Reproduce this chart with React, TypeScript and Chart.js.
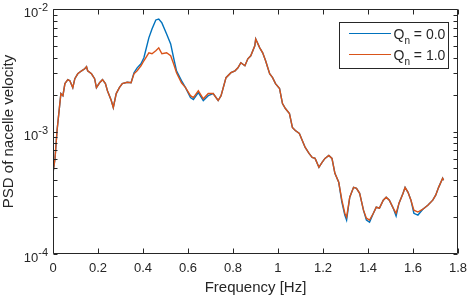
import React, { useEffect, useRef } from 'react';
import { Chart, registerables } from 'chart.js';

Chart.register(...registerables);

const frequency = [
  0.000, 0.009, 0.018, 0.035, 0.044, 0.053, 0.066, 0.075, 0.088, 0.097,
  0.110, 0.127, 0.141, 0.149, 0.154, 0.171, 0.185, 0.193, 0.207, 0.220,
  0.233, 0.242, 0.259, 0.268, 0.281, 0.295, 0.308, 0.330, 0.347, 0.360,
  0.374, 0.391, 0.404, 0.426, 0.440, 0.457, 0.470, 0.484, 0.505, 0.523,
  0.536, 0.549, 0.571, 0.589, 0.611, 0.624, 0.646, 0.668, 0.690, 0.712,
  0.734, 0.747, 0.769, 0.791, 0.809, 0.822, 0.835, 0.853, 0.866, 0.879,
  0.897, 0.901, 0.919, 0.932, 0.945, 0.963, 0.976, 0.989, 1.007, 1.020,
  1.033, 1.051, 1.064, 1.077, 1.095, 1.108, 1.121, 1.138, 1.152, 1.165,
  1.182, 1.196, 1.209, 1.226, 1.240, 1.253, 1.270, 1.284, 1.297, 1.305,
  1.319, 1.336, 1.349, 1.363, 1.380, 1.393, 1.407, 1.424, 1.437, 1.451,
  1.468, 1.481, 1.495, 1.512, 1.525, 1.538, 1.556, 1.565, 1.578, 1.591,
  1.604, 1.622, 1.644, 1.666, 1.688, 1.701, 1.714, 1.732, 1.736,
];

const psdQn0 = [
  4.56e-4, 6.03e-4, 1.02e-3, 2.04e-3, 1.96e-3, 2.46e-3, 2.65e-3, 2.60e-3, 2.28e-3, 2.70e-3,
  2.96e-3, 3.13e-3, 3.25e-3, 3.38e-3, 3.13e-3, 2.96e-3, 2.70e-3, 2.28e-3, 2.50e-3, 2.65e-3,
  2.46e-3, 2.15e-3, 1.79e-3, 1.57e-3, 2.04e-3, 2.28e-3, 2.46e-3, 2.52e-3, 2.50e-3, 3.02e-3,
  3.31e-3, 3.57e-3, 4.00e-3, 5.81e-3, 6.88e-3, 8.14e-3, 8.29e-3, 7.70e-3, 6.26e-3, 5.19e-3,
  4.00e-3, 3.13e-3, 2.60e-3, 2.28e-3, 1.89e-3, 1.82e-3, 2.08e-3, 1.79e-3, 1.96e-3, 2.04e-3,
  1.79e-3, 1.96e-3, 2.75e-3, 3.02e-3, 3.13e-3, 3.31e-3, 3.64e-3, 3.44e-3, 3.92e-3, 4.15e-3,
  5.00e-3, 5.70e-3, 4.82e-3, 4.39e-3, 3.78e-3, 2.96e-3, 2.75e-3, 2.46e-3, 2.24e-3, 1.69e-3,
  1.54e-3, 1.40e-3, 1.08e-3, 1.02e-3, 9.63e-4, 8.45e-4, 7.41e-4, 6.62e-4, 6.15e-4, 6.03e-4,
  5.10e-4, 5.60e-4, 6.03e-4, 6.38e-4, 6.03e-4, 4.56e-4, 3.85e-4, 2.65e-4, 2.08e-4, 1.89e-4,
  2.91e-4, 3.50e-4, 3.44e-4, 3.13e-4, 2.28e-4, 1.89e-4, 1.82e-4, 2.15e-4, 2.41e-4, 2.37e-4,
  2.75e-4, 2.91e-4, 2.75e-4, 2.37e-4, 2.04e-4, 2.60e-4, 3.13e-4, 3.50e-4, 3.19e-4, 2.75e-4,
  2.15e-4, 2.08e-4, 2.32e-4, 2.50e-4, 2.75e-4, 3.02e-4, 3.50e-4, 4.15e-4, 4.00e-4,
];

const psdQn1 = [
  4.56e-4, 6.03e-4, 1.02e-3, 2.04e-3, 1.96e-3, 2.46e-3, 2.65e-3, 2.60e-3, 2.28e-3, 2.70e-3,
  2.96e-3, 3.13e-3, 3.25e-3, 3.38e-3, 3.13e-3, 2.96e-3, 2.70e-3, 2.28e-3, 2.50e-3, 2.65e-3,
  2.46e-3, 2.15e-3, 1.79e-3, 1.57e-3, 2.04e-3, 2.28e-3, 2.46e-3, 2.52e-3, 2.50e-3, 2.96e-3,
  3.13e-3, 3.44e-3, 3.78e-3, 4.39e-3, 4.31e-3, 4.56e-3, 4.82e-3, 4.31e-3, 4.39e-3, 4.15e-3,
  3.57e-3, 3.02e-3, 2.50e-3, 2.28e-3, 1.96e-3, 1.89e-3, 2.15e-3, 1.85e-3, 2.04e-3, 2.04e-3,
  1.79e-3, 1.96e-3, 2.75e-3, 3.02e-3, 3.13e-3, 3.31e-3, 3.64e-3, 3.44e-3, 3.92e-3, 4.15e-3,
  5.00e-3, 5.70e-3, 4.82e-3, 4.39e-3, 3.78e-3, 2.96e-3, 2.75e-3, 2.46e-3, 2.24e-3, 1.69e-3,
  1.54e-3, 1.40e-3, 1.08e-3, 1.02e-3, 9.63e-4, 8.45e-4, 7.41e-4, 6.62e-4, 6.15e-4, 6.03e-4,
  5.10e-4, 5.60e-4, 6.03e-4, 6.38e-4, 6.03e-4, 4.56e-4, 3.85e-4, 2.75e-4, 2.15e-4, 2.00e-4,
  2.91e-4, 3.50e-4, 3.44e-4, 3.13e-4, 2.28e-4, 1.96e-4, 1.89e-4, 2.15e-4, 2.41e-4, 2.37e-4,
  2.75e-4, 2.91e-4, 2.75e-4, 2.37e-4, 2.15e-4, 2.60e-4, 3.13e-4, 3.50e-4, 3.19e-4, 2.75e-4,
  2.28e-4, 2.20e-4, 2.32e-4, 2.50e-4, 2.75e-4, 3.02e-4, 3.50e-4, 4.15e-4, 4.00e-4,
];

const seriesLabels = ['Q_n = 0.0', 'Q_n = 1.0'];
const seriesColors = ['#0072BD', '#D95319'];
const xTickValues = [0, 0.2, 0.4, 0.6, 0.8, 1, 1.2, 1.4, 1.6, 1.8];
const yDecadeValues = [1e-4, 1e-3, 1e-2];
const xAxisTitle = 'Frequency [Hz]';
const yAxisTitle = 'PSD of nacelle velocity';

const FONT = '"Liberation Sans", Arial, Helvetica, sans-serif';
const INK = '#262626';

const matlabFrame = {
  id: 'matlabFrame',
  afterDatasetsDraw(chart: any) {
    const { ctx, chartArea, scales } = chart;
    const { left, right, top, bottom } = chartArea;
    const xs = scales.x;
    const ys = scales.y;
    ctx.save();
    ctx.strokeStyle = INK;
    ctx.lineWidth = 1;
    const L = Math.round(left) + 0.5;
    const R = Math.round(right) - 0.5;
    const T = Math.round(top) + 0.5;
    const B = Math.round(bottom) - 0.5;
    ctx.beginPath();
    ctx.rect(L, T, R - L, B - T);
    for (const v of xTickValues) {
      const px = Math.round(xs.getPixelForValue(v)) + 0.5;
      ctx.moveTo(px, B);
      ctx.lineTo(px, B - 5);
      ctx.moveTo(px, T);
      ctx.lineTo(px, T + 5);
    }
    for (let i = 0; i < yDecadeValues.length; i++) {
      const d = yDecadeValues[i];
      const mults = i < yDecadeValues.length - 1 ? [1, 2, 3, 4, 5, 6, 7, 8, 9] : [1];
      for (const m of mults) {
        const py = Math.round(ys.getPixelForValue(d * m)) + 0.5;
        ctx.moveTo(L, py);
        ctx.lineTo(L + 4, py);
        ctx.moveTo(R, py);
        ctx.lineTo(R - 4, py);
      }
    }
    ctx.stroke();

    // y tick labels with superscript exponent
    ctx.fillStyle = INK;
    ctx.textAlign = 'right';
    ctx.textBaseline = 'alphabetic';
    for (const d of yDecadeValues) {
      const py = ys.getPixelForValue(d);
      const exp = String(Math.round(Math.log10(d)));
      ctx.font = `11px ${FONT}`;
      const ew = ctx.measureText(exp).width;
      ctx.fillText(exp, left - 5, py + 2);
      ctx.font = `13px ${FONT}`;
      ctx.fillText('10', left - 5 - ew, py + 8);
    }

    // legend
    const bw = 109;
    const bh = 46;
    const bx = Math.round(right) - 10 - bw + 0.5;
    const by = Math.round(top) + 13 + 0.5;
    ctx.fillStyle = '#ffffff';
    ctx.fillRect(bx, by, bw, bh);
    ctx.strokeStyle = INK;
    ctx.lineWidth = 1;
    ctx.strokeRect(bx, by, bw, bh);
    ctx.textAlign = 'left';
    chart.data.datasets.forEach((ds: any, i: number) => {
      const ly = Math.round(by + 10 + i * 21) + 0.5;
      ctx.strokeStyle = ds.borderColor;
      ctx.lineWidth = 1;
      ctx.beginPath();
      ctx.moveTo(bx + 9.5, ly);
      ctx.lineTo(bx + 51.5, ly);
      ctx.stroke();
      const m = /^(.*?)_(\w)(.*)$/.exec(ds.label);
      const base = m ? m[1] : ds.label;
      const sub = m ? m[2] : '';
      const rest = m ? m[3] : '';
      let tx = bx + 54;
      ctx.fillStyle = INK;
      ctx.font = `14px ${FONT}`;
      ctx.fillText(base, tx, ly + 5);
      tx += ctx.measureText(base).width;
      ctx.font = `10px ${FONT}`;
      ctx.fillText(sub, tx, ly + 10);
      tx += ctx.measureText(sub).width;
      ctx.font = `14px ${FONT}`;
      ctx.fillText(rest, tx, ly + 5);
    });
    ctx.restore();
  },
};

export default function App() {
  const canvasRef = useRef<HTMLCanvasElement | null>(null);

  useEffect(() => {
    const canvas = canvasRef.current;
    if (!canvas) return;
    const chart = new Chart(canvas, {
      type: 'line',
      data: {
        datasets: [
          {
            label: seriesLabels[0],
            data: frequency.map((f, i) => ({ x: f, y: psdQn0[i] })),
            borderColor: seriesColors[0],
            backgroundColor: seriesColors[0],
            borderWidth: 1.4,
            pointRadius: 0,
            fill: false,
            tension: 0,
            order: 1,
          },
          {
            label: seriesLabels[1],
            data: frequency.map((f, i) => ({ x: f, y: psdQn1[i] })),
            borderColor: seriesColors[1],
            backgroundColor: seriesColors[1],
            borderWidth: 1.4,
            pointRadius: 0,
            fill: false,
            tension: 0,
            order: 0,
          },
        ],
      },
      options: {
        animation: false,
        responsive: false,
        maintainAspectRatio: false,
        layout: { padding: { top: 9, right: 10, left: 0, bottom: 0 } },
        plugins: { legend: { display: false }, tooltip: { enabled: false } },
        scales: {
          x: {
            type: 'linear',
            min: 0,
            max: 1.8,
            grid: { display: false, drawTicks: false },
            border: { display: false },
            ticks: {
              stepSize: 0.2,
              color: INK,
              font: { size: 13, family: FONT },
              padding: 7,
              maxRotation: 0,
              autoSkip: false,
              callback: (v: any) => String(Number(Number(v).toFixed(1))),
            },
            title: {
              display: true,
              text: xAxisTitle,
              color: INK,
              font: { size: 15, family: FONT },
              padding: { top: 0, bottom: 1 },
            },
            afterFit: (s: any) => {
              s.height = 44;
            },
          },
          y: {
            type: 'logarithmic',
            min: 1e-4,
            max: 1e-2,
            grid: { display: false, drawTicks: false },
            border: { display: false },
            ticks: { display: false },
            title: {
              display: true,
              text: yAxisTitle,
              color: INK,
              font: { size: 15, family: FONT },
              padding: { top: 0, bottom: 0 },
            },
            afterFit: (s: any) => {
              s.width = 53;
            },
          },
        },
      },
      plugins: [matlabFrame],
    } as any);
    return () => chart.destroy();
  }, []);

  return (
    <div style={{ position: 'fixed', left: 0, top: 0, width: 474, height: 298, background: '#ffffff' }}>
      <canvas ref={canvasRef} width={474} height={298} />
    </div>
  );
}
